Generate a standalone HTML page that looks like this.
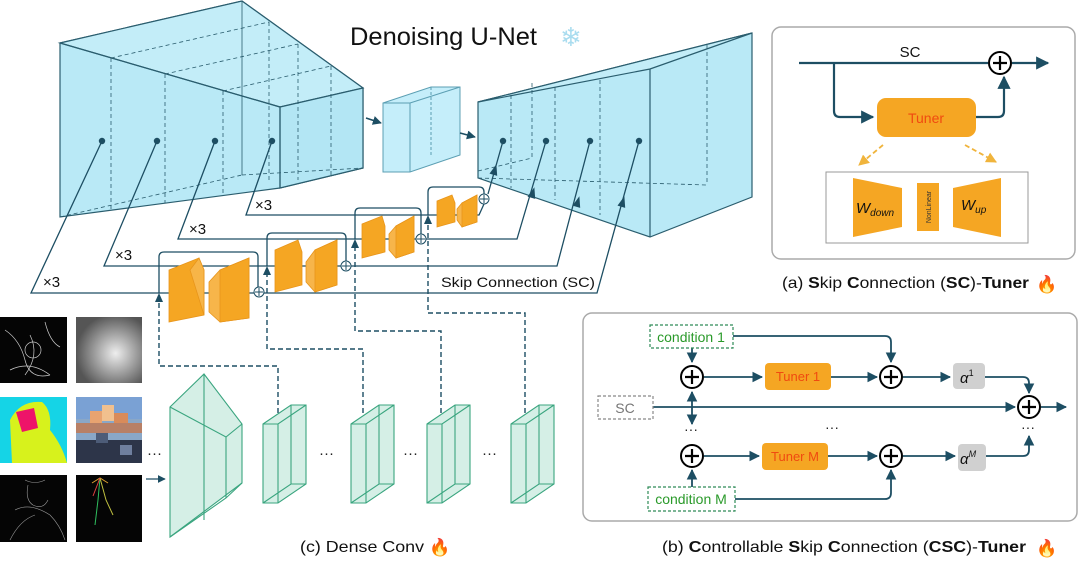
<!DOCTYPE html>
<html><head><meta charset="utf-8"><style>
html,body{margin:0;padding:0;background:#fff;}
svg{display:block;}
text{font-family:"Liberation Sans",sans-serif;}
</style></head><body>
<svg width="1080" height="565" viewBox="0 0 1080 565" xmlns="http://www.w3.org/2000/svg">
<defs>
<marker id="ar" viewBox="0 0 10 10" refX="9" refY="5" markerWidth="6" markerHeight="6" orient="auto-start-reverse"><path d="M0,0 L10,5 L0,10 z" fill="#1d4e63"/></marker>
<marker id="ao" viewBox="0 0 10 10" refX="9" refY="5" markerWidth="6" markerHeight="6" orient="auto"><path d="M0,0 L10,5 L0,10 z" fill="#f0b43c"/></marker>
<radialGradient id="gdep" cx="0.6" cy="0.55" r="0.6"><stop offset="0" stop-color="#eee"/><stop offset="1" stop-color="#555"/></radialGradient>
</defs>

<!-- Left big block -->
<g stroke="#2a5d6e" stroke-width="1.2" fill="#b9e9f6">
<polygon points="60,43 242,1 363,88 363,168 280,188 60,217"/>
<polygon points="60,43 242,1 363,88 280,107" fill="#c3edf8"/>
<polygon points="280,107 363,88 363,168 280,188" fill="#b3e6f4"/>
<line x1="60" y1="43" x2="280" y2="107"/>
<line x1="280" y1="107" x2="280" y2="188"/>
<line x1="242" y1="1" x2="242" y2="175" stroke-width="0.8"/>
</g>
<g stroke="#2a5d6e" stroke-width="0.8" fill="none" stroke-dasharray="4,3">
<line x1="111" y1="58" x2="111" y2="210"/><line x1="165" y1="74" x2="165" y2="203"/><line x1="223" y1="91" x2="223" y2="195"/>
<line x1="269" y1="22" x2="269" y2="180"/><line x1="298" y1="44" x2="298" y2="180"/><line x1="331" y1="66" x2="331" y2="175"/>
<line x1="111" y1="58" x2="269" y2="22"/><line x1="165" y1="74" x2="298" y2="44"/><line x1="223" y1="91" x2="331" y2="66"/>
<line x1="60" y1="217" x2="242" y2="175"/><line x1="242" y1="175" x2="363" y2="168"/>
</g>
<!-- middle box -->
<g stroke="#5c9fb3" stroke-width="1" fill="#c5eefa">
<polygon points="383,103 431,87 460,87 460,155 410,172 383,172"/>
<line x1="383" y1="103" x2="410" y2="103"/><line x1="410" y1="103" x2="460" y2="87"/><line x1="410" y1="103" x2="410" y2="172"/>
<line x1="431" y1="87" x2="431" y2="155" stroke-dasharray="3,2"/>
</g>
<line x1="366" y1="118" x2="381" y2="123" stroke="#1d4e63" stroke-width="1.5" marker-end="url(#ar)"/>
<line x1="460" y1="133" x2="475" y2="137" stroke="#1d4e63" stroke-width="1.5" marker-end="url(#ar)"/>
<!-- right big block -->
<g stroke="#2a5d6e" stroke-width="1.2" fill="#b9e9f6">
<polygon points="478,102 752,33 752,197 650,237 478,178"/>
<polygon points="478,102 752,33 650,69" fill="#c3edf8"/>
<line x1="650" y1="69" x2="650" y2="237"/>
</g>
<g stroke="#2a5d6e" stroke-width="0.8" fill="none" stroke-dasharray="4,3">
<line x1="511" y1="95" x2="511" y2="188"/><line x1="555" y1="87" x2="555" y2="200"/><line x1="600" y1="80" x2="600" y2="215"/>
<line x1="707" y1="45" x2="707" y2="185"/><line x1="478" y1="178" x2="707" y2="185"/>
<line x1="532" y1="83" x2="532" y2="158"/><line x1="478" y1="171" x2="532" y2="158"/>
</g>
<!-- dots -->
<g fill="#1d4e63">
<circle cx="102" cy="141" r="3.2"/><circle cx="157" cy="141" r="3.2"/><circle cx="215" cy="141" r="3.2"/><circle cx="272" cy="141" r="3.2"/>
<circle cx="503" cy="141" r="3.2"/><circle cx="546" cy="141" r="3.2"/><circle cx="590" cy="141" r="3.2"/><circle cx="639" cy="141" r="3.2"/>
</g>
<text x="350" y="45" font-size="25" fill="#111" textLength="187" lengthAdjust="spacingAndGlyphs">Denoising U-Net</text>
<text x="560" y="46" font-size="26" fill="#a9dcef" font-family="DejaVu Sans">❄</text>

<!-- skip lines -->
<g stroke="#1d4e63" stroke-width="1.3" fill="none">
<polyline points="102,141 31,293 597,293 639,141"/>
<polyline points="157,141 104,266 557,266 590,141"/>
<polyline points="215,141 178,239 517,239 546,141"/>
<polyline points="272,141 246,215 479,215 484,204"/>
<line x1="488" y1="194" x2="503" y2="141"/>
<path d="M159,293 V257 Q159,252 164,252 H253 Q258,252 258,257 V287"/>
<path d="M267,266 V238 Q267,233 272,233 H341 Q346,233 346,238 V261"/>
<path d="M355,239 V213 Q355,208 360,208 H416 Q421,208 421,213 V234"/>
<path d="M428,215 V192 Q428,187 433,187 H479 Q484,187 484,192 V194"/>
</g>
<g fill="#1d4e63">
<polygon points="623,196 619,207 627,207" transform="rotate(16 623 201)"/>
<polygon points="578,196 574,207 582,207" transform="rotate(16 578 201)"/>
<polygon points="533,187 529,198 537,198" transform="rotate(16 533 192)"/>
<polygon points="495,164 491,175 499,175" transform="rotate(16 495 169)"/>
</g>
<g stroke="#1d4e63" stroke-width="1" fill="#fff">
<circle cx="259" cy="292" r="5"/><circle cx="346" cy="266" r="5"/><circle cx="421" cy="239" r="5"/><circle cx="484" cy="199" r="5"/>
</g>
<g stroke="#1d4e63" stroke-width="1">
<path d="M255,292h8M259,288v8M342,266h8M346,262v8M417,239h8M421,235v8M480,199h8M484,195v8"/>
</g>
<g font-size="15" fill="#111">
<text x="43" y="287">×3</text><text x="115" y="260">×3</text><text x="189" y="234">×3</text><text x="255" y="210">×3</text>
<text x="441" y="287" font-size="14" textLength="154" lengthAdjust="spacingAndGlyphs">Skip Connection (SC)</text>
</g>

<!-- orange blocks -->
<g stroke="#e8951b" stroke-width="0.8">
<polygon points="169,270 199,258 204,270 204,315 169,322" fill="#f5a623"/>
<polygon points="190,270 199,258 204,270 204,315" fill="#f7b548"/>
<polygon points="209,282 220,270 249,258 249,318 220,322 209,312" fill="#f7b54a"/>
<polygon points="220,270 249,258 249,318 220,322" fill="#f5a623"/>
<polygon points="275,250 298,240 302,252 302,285 275,292" fill="#f5a623"/>
<polygon points="306,262 315,250 337,240 337,285 315,292 306,282" fill="#f7b54a"/>
<polygon points="315,250 337,240 337,285 315,292" fill="#f5a623"/>
<polygon points="362,224 382,216 385,226 385,252 362,258" fill="#f5a623"/>
<polygon points="389,234 396,226 414,216 414,252 396,258 389,250" fill="#f7b54a"/>
<polygon points="396,226 414,216 414,252 396,258" fill="#f5a623"/>
<polygon points="437,201 452,195 455,203 455,222 437,227" fill="#f5a623"/>
<polygon points="457,209 462,203 477,195 477,222 462,227 457,220" fill="#f7b54a"/>
<polygon points="462,203 477,195 477,222 462,227" fill="#f5a623"/>
</g>

<!-- dashed connectors -->
<g stroke="#1d4e63" stroke-width="1.4" fill="none" stroke-dasharray="5,3">
<polyline points="278,413 278,366 159,366 159,300"/>
<polyline points="363,413 363,349 267,349 267,273"/>
<polyline points="441,413 441,331 355,331 355,246"/>
<polyline points="525,413 525,313 428,313 428,222"/>
</g>
<g fill="#1d4e63">
<polygon points="159,293 155,302 163,302"/><polygon points="267,266 263,275 271,275"/>
<polygon points="355,239 351,248 359,248"/><polygon points="428,215 424,224 432,224"/>
</g>

<!-- condition images -->
<rect x="0" y="317" width="67" height="66" fill="#050505"/>
<g stroke="#ccc" stroke-width="0.7" fill="none"><path d="M5,330 q15,10 20,30 t25,15 M30,335 q10,20 -5,40 M10,370 q20,-10 40,5 M45,322 q5,20 15,25"/><circle cx="33" cy="350" r="8"/></g>
<rect x="76" y="317" width="66" height="66" fill="url(#gdep)"/>
<rect x="0" y="397" width="67" height="66" fill="#15d4e6"/>
<path d="M12,463 L10,420 Q20,400 42,402 Q52,410 50,430 Q62,445 67,463 Z" fill="#d7f21c"/>
<path d="M16,412 L34,408 L38,428 L22,432 Z" fill="#ee1469"/>
<rect x="76" y="397" width="66" height="66" fill="#8aa7c7"/>
<rect x="76" y="397" width="66" height="22" fill="#7aa1d4"/>
<rect x="90" y="411" width="12" height="12" fill="#e8a370"/><rect x="102" y="405" width="12" height="16" fill="#f1c08e"/><rect x="114" y="413" width="14" height="10" fill="#d98b5a"/><rect x="76" y="423" width="66" height="10" fill="#b88066"/>
<rect x="76" y="440" width="66" height="23" fill="#2d3549"/><rect x="96" y="433" width="12" height="10" fill="#4d5c78"/><rect x="120" y="445" width="12" height="10" fill="#6f7f9e"/>
<rect x="0" y="475" width="67" height="67" fill="#050505"/>
<g stroke="#999" stroke-width="0.6" fill="none"><path d="M25,480 q10,5 20,0 M28,485 q-3,15 5,20 q10,5 15,-5 M15,510 q15,-8 35,5 q10,10 15,25 M10,540 q10,-20 25,-25"/></g>
<rect x="76" y="475" width="66" height="67" fill="#050505"/>
<g stroke-width="1" fill="none"><path d="M92,483 L100,478 L108,483" stroke="#e0a030"/><path d="M100,478 L98,500 L95,525" stroke="#30c060"/><path d="M100,478 L106,500 L113,515" stroke="#c0c040"/><path d="M100,478 L93,496" stroke="#e04040"/></g>
<text x="147" y="458" font-size="15" fill="#222">···</text>
<line x1="146" y1="479" x2="165" y2="479" stroke="#1d4e63" stroke-width="1.3" marker-end="url(#ar)"/>

<!-- green dense conv -->
<g stroke="#3aa57f" stroke-width="1.1" fill="#d5efe6">
<polygon points="170,407 204,374 242,424 242,483 170,537"/>
<polyline points="170,407 226,437 242,424" fill="none"/>
<line x1="226" y1="437" x2="226" y2="498"/><line x1="204" y1="374" x2="204" y2="520"/>
<polyline points="170,537 226,498 242,483" fill="none"/>
</g>
<g stroke="#3aa57f" stroke-width="1.1" fill="#d5efe6">
<g><polygon points="263,424 291,405 306,405 306,484 278,503 263,503"/><path d="M263,424h15l28,-19M278,424v79M291,405v79 M263,503l28,-19h15" fill="none"/></g>
<g transform="translate(88,0)"><polygon points="263,424 291,405 306,405 306,484 278,503 263,503"/><path d="M263,424h15l28,-19M278,424v79M291,405v79 M263,503l28,-19h15" fill="none"/></g>
<g transform="translate(164,0)"><polygon points="263,424 291,405 306,405 306,484 278,503 263,503"/><path d="M263,424h15l28,-19M278,424v79M291,405v79 M263,503l28,-19h15" fill="none"/></g>
<g transform="translate(248,0)"><polygon points="263,424 291,405 306,405 306,484 278,503 263,503"/><path d="M263,424h15l28,-19M278,424v79M291,405v79 M263,503l28,-19h15" fill="none"/></g>
</g>
<g font-size="15" fill="#222"><text x="319" y="458">···</text><text x="403" y="458">···</text><text x="482" y="458">···</text></g>
<text x="300" y="552" font-size="16" fill="#111" textLength="124" lengthAdjust="spacingAndGlyphs">(c) Dense Conv</text>
<text x="429" y="553" font-size="17" font-family="DejaVu Sans" fill="#f07820">🔥</text>

<!-- (a) SC-Tuner panel -->
<rect x="772" y="27" width="303" height="232" rx="9" fill="#fff" stroke="#aaa" stroke-width="1.5"/>
<text x="910" y="57" font-size="15" fill="#111" text-anchor="middle">SC</text>
<g stroke="#1d4e63" stroke-width="2.2" fill="none">
<line x1="799" y1="63" x2="988" y2="63"/>
<line x1="1012" y1="63" x2="1048" y2="63" marker-end="url(#ar)"/>
<path d="M834,63 V111 Q834,117 840,117 H873" marker-end="url(#ar)"/>
<path d="M976,117 H998 Q1004,117 1004,111 V77" marker-end="url(#ar)"/>
</g>
<circle cx="1000" cy="63" r="11" fill="#fff" stroke="#000" stroke-width="2"/>
<path d="M993,63h14M1000,56v14" stroke="#000" stroke-width="2.2"/>
<rect x="877" y="98" width="99" height="39" rx="9" fill="#f5a623"/>
<text x="926" y="123" font-size="14" fill="#f04a10" text-anchor="middle">Tuner</text>
<g stroke="#f0b43c" stroke-width="1.8" stroke-dasharray="5,3" fill="none">
<line x1="883" y1="145" x2="859" y2="165" marker-end="url(#ao)"/>
<line x1="965" y1="145" x2="996" y2="162" marker-end="url(#ao)"/>
</g>
<rect x="826" y="172" width="202" height="71" fill="#fff" stroke="#999" stroke-width="1"/>
<polygon points="853,178 902,188 902,227 853,237" fill="#f5a623"/>
<rect x="917" y="183" width="22" height="48" fill="#f5a623"/>
<text x="931" y="207" font-size="7" fill="#333" text-anchor="middle" transform="rotate(-90 931 207)">NonLinear</text>
<polygon points="953,188 1001,178 1001,237 953,227" fill="#f5a623"/>
<text x="856" y="213" font-size="15" font-family="Liberation Serif" font-style="italic" fill="#111">W<tspan font-size="10" dy="3">down</tspan></text>
<text x="961" y="210" font-size="15" font-family="Liberation Serif" font-style="italic" fill="#111">W<tspan font-size="10" dy="3">up</tspan></text>
<text x="782" y="288" font-size="16" fill="#111" textLength="247" lengthAdjust="spacingAndGlyphs">(a) <tspan font-weight="bold">S</tspan>kip <tspan font-weight="bold">C</tspan>onnection (<tspan font-weight="bold">SC</tspan>)-<tspan font-weight="bold">Tuner</tspan></text>
<text x="1036" y="290" font-size="17" font-family="DejaVu Sans" fill="#f07820">🔥</text>

<!-- (b) CSC-Tuner panel -->
<rect x="583" y="313" width="494" height="208" rx="9" fill="#fff" stroke="#aaa" stroke-width="1.5"/>
<g stroke="#1d4e63" stroke-width="1.8" fill="none">
<line x1="692" y1="348" x2="692" y2="362" marker-end="url(#ar)"/>
<path d="M733,336 H885 Q891,336 891,342 V362" marker-end="url(#ar)"/>
<line x1="704" y1="377" x2="762" y2="377" marker-end="url(#ar)"/>
<line x1="831" y1="377" x2="877" y2="377" marker-end="url(#ar)"/>
<line x1="903" y1="377" x2="950" y2="377" marker-end="url(#ar)"/>
<path d="M985,377 H1023 Q1029,377 1029,383 V393" marker-end="url(#ar)"/>
<line x1="653" y1="407" x2="1015" y2="407" marker-end="url(#ar)"/>
<line x1="1041" y1="407" x2="1066" y2="407" marker-end="url(#ar)"/>
<line x1="692" y1="392" x2="692" y2="424" marker-end="url(#ar)" marker-start="url(#ar)"/>
<line x1="704" y1="456" x2="759" y2="456" marker-end="url(#ar)"/>
<line x1="828" y1="456" x2="877" y2="456" marker-end="url(#ar)"/>
<line x1="903" y1="456" x2="955" y2="456" marker-end="url(#ar)"/>
<path d="M986,456 H1023 Q1029,456 1029,450 V436" marker-end="url(#ar)"/>
<line x1="692" y1="487" x2="692" y2="470" marker-end="url(#ar)"/>
<path d="M735,499 H885 Q891,499 891,493 V470" marker-end="url(#ar)"/>
</g>
<g fill="#fff" stroke="#000" stroke-width="2">
<circle cx="692" cy="377" r="11"/><circle cx="891" cy="377" r="11"/><circle cx="692" cy="456" r="11"/><circle cx="891" cy="456" r="11"/><circle cx="1029" cy="407" r="11"/>
</g>
<path d="M685,377h14M692,370v14M884,377h14M891,370v14M685,456h14M692,449v14M884,456h14M891,449v14M1022,407h14M1029,400v14" stroke="#000" stroke-width="2.2"/>
<rect x="650" y="325" width="83" height="23" fill="#fff" stroke="#2e8b57" stroke-width="1.2" stroke-dasharray="3,2"/>
<text x="691" y="342" font-size="14" fill="#2a9a2a" text-anchor="middle">condition 1</text>
<rect x="648" y="487" width="87" height="24" fill="#fff" stroke="#2e8b57" stroke-width="1.2" stroke-dasharray="3,2"/>
<text x="691" y="504" font-size="14" fill="#2a9a2a" text-anchor="middle">condition M</text>
<rect x="598" y="396" width="55" height="23" fill="#fff" stroke="#888" stroke-width="1.2" stroke-dasharray="3,2"/>
<text x="625" y="413" font-size="14" fill="#777" text-anchor="middle">SC</text>
<rect x="765" y="363" width="66" height="27" rx="4" fill="#f5a623"/>
<text x="798" y="381" font-size="13" fill="#f04a10" text-anchor="middle">Tuner 1</text>
<rect x="762" y="443" width="66" height="27" rx="4" fill="#f5a623"/>
<text x="795" y="461" font-size="13" fill="#f04a10" text-anchor="middle">Tuner M</text>
<rect x="953" y="363" width="32" height="26" rx="4" fill="#d0d0d0"/>
<text x="960" y="383" font-size="15" font-family="Liberation Serif" font-style="italic" fill="#111">α<tspan font-size="9" font-style="normal" dy="-7">1</tspan></text>
<rect x="958" y="444" width="28" height="27" rx="4" fill="#d0d0d0"/>
<text x="960" y="464" font-size="15" font-family="Liberation Serif" font-style="italic" fill="#111">α<tspan font-size="9" dy="-7">M</tspan></text>
<g font-size="14" fill="#222"><text x="684" y="434">···</text><text x="825" y="432">···</text><text x="1021" y="432">···</text></g>
<text x="662" y="552" font-size="16" fill="#111" textLength="364" lengthAdjust="spacingAndGlyphs">(b) <tspan font-weight="bold">C</tspan>ontrollable <tspan font-weight="bold">S</tspan>kip <tspan font-weight="bold">C</tspan>onnection (<tspan font-weight="bold">CSC</tspan>)-<tspan font-weight="bold">Tuner</tspan></text>
<text x="1036" y="554" font-size="17" font-family="DejaVu Sans" fill="#f07820">🔥</text>
</svg>
</body></html>
